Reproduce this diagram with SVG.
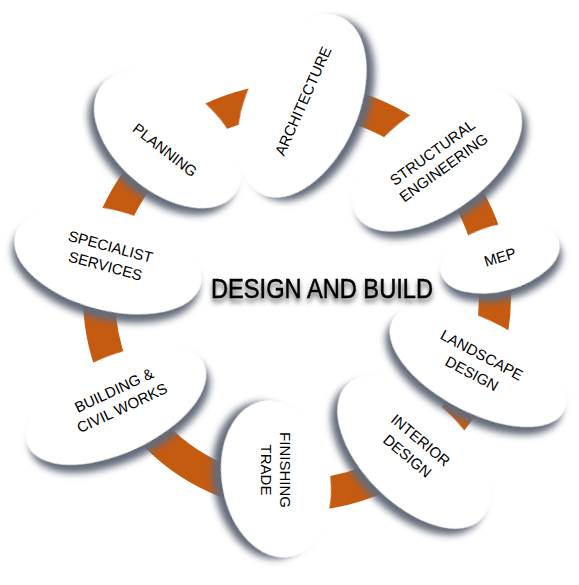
<svg xmlns="http://www.w3.org/2000/svg" width="579" height="585" viewBox="0 0 579 585">
<defs>
<filter id="sh" x="-30%" y="-30%" width="160%" height="170%">
<feDropShadow dx="0" dy="9" stdDeviation="3.5" flood-color="#636c7a" flood-opacity="1"/>
</filter>
<filter id="tsh" x="-10%" y="-30%" width="120%" height="180%">
<feDropShadow dx="0" dy="4" stdDeviation="2.5" flood-color="#444" flood-opacity="0.85"/>
</filter>
<style>
.node ellipse{fill:#fff;filter:url(#sh)}
.node text{font-family:"Liberation Sans",Arial,sans-serif;font-size:15px;fill:#000;text-anchor:middle}
.title{font-family:"Liberation Sans",Arial,sans-serif;font-size:28px;fill:#000;stroke:#000;stroke-width:0.6;text-anchor:middle;filter:url(#tsh)}
</style>
</defs>
<rect width="579" height="585" fill="#fff"/>
<g id="connectors">
<circle cx="297" cy="297" r="198" fill="none" stroke="#c55a11" stroke-width="32"/>
</g>
<g id="n-planning" class="node">
<ellipse cx="168" cy="140" rx="86" ry="52" transform="rotate(40 168 140)"/>
<text transform="translate(165 150) rotate(38)" y="5.3">PLANNING</text>
</g>
<g id="n-architecture" class="node">
<ellipse cx="302" cy="106" rx="97" ry="56" transform="rotate(-66 302 106)"/>
<text transform="translate(303 101) rotate(-66)" y="5.3">ARCHITECTURE</text>
</g>
<g id="n-specialist" class="node">
<ellipse cx="108" cy="260" rx="96" ry="50" transform="rotate(15 108 260)"/>
<text transform="translate(108 256) rotate(15)"><tspan x="0" y="-4.5">SPECIALIST</tspan><tspan x="0" y="15.5">SERVICES</tspan></text>
</g>
<g id="n-building" class="node">
<ellipse cx="116" cy="405" rx="97" ry="48" transform="rotate(-25 116 405)"/>
<text transform="translate(118 399) rotate(-25)"><tspan x="0" y="-4.3">BUILDING &amp;</tspan><tspan x="0" y="15">CIVIL WORKS</tspan></text>
</g>
<g id="n-finishing" class="node">
<ellipse cx="276" cy="479" rx="79" ry="54" transform="rotate(80 276 479)"/>
<text transform="translate(276 470) rotate(90)"><tspan x="0" y="-4.2">FINISHING</tspan><tspan x="0" y="14.8">TRADE</tspan></text>
</g>
<g id="n-interior" class="node">
<ellipse cx="414" cy="452" rx="95" ry="52" transform="rotate(45 414 452)"/>
<text transform="translate(414 448) rotate(40)"><tspan x="0" y="-5">INTERIOR</tspan><tspan x="0" y="15.6">DESIGN</tspan></text>
</g>
<g id="n-landscape" class="node">
<ellipse cx="478" cy="366" rx="97" ry="46" transform="rotate(28 478 366)"/>
<text transform="translate(477 364) rotate(28)"><tspan x="0" y="-5">LANDSCAPE</tspan><tspan x="0" y="16">DESIGN</tspan></text>
</g>
<g id="n-structural" class="node">
<ellipse cx="437" cy="160" rx="98" ry="52" transform="rotate(-36 437 160)"/>
<text transform="translate(438 160) rotate(-36)"><tspan x="0" y="-4.2">STRUCTURAL</tspan><tspan x="0" y="14.8">ENGINEERING</tspan></text>
</g>
<g id="n-mep" class="node">
<ellipse cx="500" cy="258" rx="61" ry="33" transform="rotate(-15 500 258)"/>
<text transform="translate(500 257) rotate(-17)" y="5.3">MEP</text>
</g>
<g id="title">
<text class="title" x="322" y="298" textLength="222" lengthAdjust="spacingAndGlyphs">DESIGN AND BUILD</text>
</g>
</svg>
